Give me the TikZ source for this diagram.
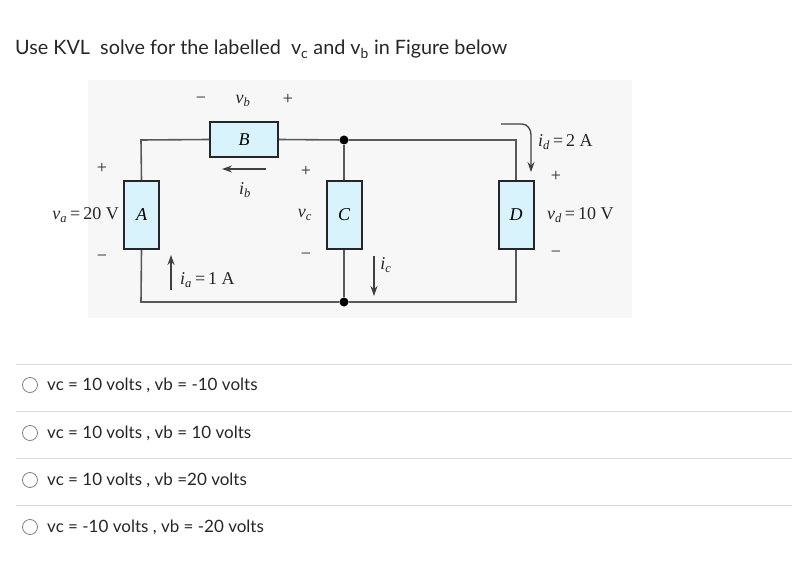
\documentclass[tikz,border=0pt]{standalone}
\usepackage{fontspec}
\usetikzlibrary{arrows.meta}
\setmainfont{Lato}
\newfontfamily\circfont{Liberation Serif}
\begin{document}
\begin{tikzpicture}[x=1pt,y=-1pt,
  elem/.style={draw=black!85,line width=2pt,fill=cyan!15,minimum width=35pt,minimum height=68pt,inner sep=0pt,font=\circfont\itshape\fontsize{18}{18}\selectfont},
  wire/.style={draw=black!65,line width=1.6pt},
  lab/.style={font=\circfont\fontsize{18}{18}\selectfont,text=black!85,inner sep=0pt},
  dot/.style={circle,fill=black,inner sep=0pt,minimum size=9pt},
  arr/.style={draw=black!75,line width=1.3pt,-{Stealth[length=10pt,width=7pt]}},
  opt/.style={font=\fontsize{17}{18}\selectfont,text=black!85,anchor=west,inner sep=0pt},
  radio/.style={circle,draw=black!50,line width=0.8pt,minimum size=15pt,inner sep=0pt},
  sep/.style={draw=black!15,line width=0.7pt}]
\useasboundingbox (0,0) rectangle (792,561);
\fill[black!3] (88,80) rectangle (632,318);
\node[anchor=base west,inner sep=0pt,font=\fontsize{19.8}{20}\selectfont,text=black!85] (title) at (15,55) {Use KVL\ \ solve for the labelled\ \ v\textsubscript{c} and v\textsubscript{b} in Figure below};
% elements
\node[elem] (A) at (141.5,215) {A};
\node[elem,minimum width=68pt,minimum height=35pt] (B) at (244,139.5) {B};
\node[elem] (C) at (344,215) {C};
\node[elem] (D) at (516,215) {D};
\coordinate (tl) at (141,140); \coordinate (bl) at (141,302);
\node[dot] (n1) at (344,140) {}; \node[dot] (n2) at (344,302) {};
\coordinate (tr) at (516,140); \coordinate (br) at (516,302);
\draw[wire] (A.north) -- (tl) -- (B.west);
\draw[wire] (B.east) -- (n1) -- (tr) -- (D.north);
\draw[wire] (A.south) -- (bl) -- (n2) -- (br) -- (D.south);
\draw[wire] (n1) -- (C.north); \draw[wire] (C.south) -- (n2);
% B labels
\node[lab] (bm) at (201,100) {\textminus}; \node[lab] (bv) at (243,101) {\itshape v\textsubscript{b}}; \node[lab] (bp) at (288,99) {+};
\coordinate (ib1) at (266,169); \coordinate (ib2) at (222,169);
\draw[arr] (ib1) -- (ib2);
\node[lab] (ib) at (245,190) {\itshape i\textsubscript{b}};
% A labels
\node[lab] (ap) at (102,168) {+}; \node[lab] (am) at (102,258) {\textminus};
\node[lab,anchor=east] (va) at (119,215) {{\itshape v\textsubscript{a}}\,=\,20 V};
\coordinate (ia1) at (171,290); \coordinate (ia2) at (171,255);
\draw[arr] (ia1) -- (ia2);
\node[lab,anchor=west] (ia) at (180,280) {{\itshape i\textsubscript{a}}\,=\,1 A};
% C labels
\node[lab] (cp) at (306,171) {+}; \node[lab] (cv) at (305,215) {\itshape v\textsubscript{c}}; \node[lab] (cm) at (306,256) {\textminus};
\coordinate (ic1) at (374,256); \coordinate (ic2) at (374,296);
\draw[arr] (ic1) -- (ic2);
\node[lab] (ic) at (386,265) {\itshape i\textsubscript{c}};
% D labels
\coordinate (id0) at (501,124); \coordinate (id2) at (531,172);
\draw[arr] (id0) -- (522,124) to[out=0,in=90] (531,135) -- (id2);
\node[lab,anchor=west] (id) at (538,142) {{\itshape i\textsubscript{d}}\,=\,2 A};
\node[lab] (dp) at (556,176) {+}; \node[lab] (dm) at (556,254) {\textminus};
\node[lab,anchor=west] (vd) at (547,215) {{\itshape v\textsubscript{d}}\,=\,10 V};
% options
\draw[sep] (16,364) -- (792,364); \draw[sep] (16,411) -- (792,411);
\draw[sep] (16,458) -- (792,458); \draw[sep] (16,505) -- (792,505);
\node[radio] (r1) at (30,385) {}; \node[opt] (o1) at (47,385) {vc = 10 volts , vb = -10 volts};
\node[radio] (r2) at (30,433) {}; \node[opt] (o2) at (47,433) {vc = 10 volts , vb = 10 volts};
\node[radio] (r3) at (30,480) {}; \node[opt] (o3) at (47,480) {vc = 10 volts , vb =20 volts};
\node[radio] (r4) at (30,527) {}; \node[opt] (o4) at (47,527) {vc = -10 volts , vb = -20 volts};
\end{tikzpicture}
\end{document}
